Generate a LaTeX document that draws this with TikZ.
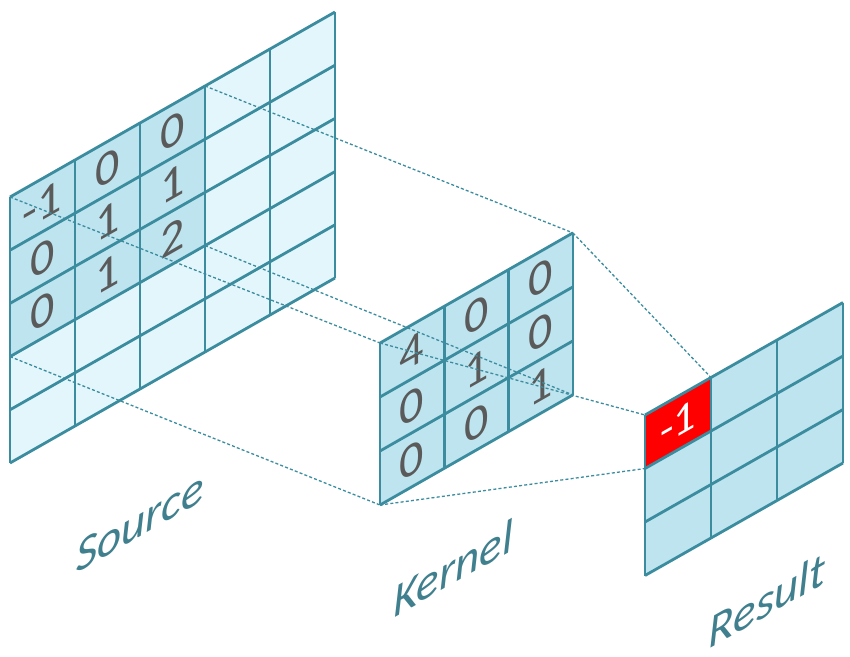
\documentclass[tikz,border=0pt]{standalone}
\usepackage{fontspec}
\setmainfont{Carlito}
\begin{document}
\definecolor{edge}{HTML}{3A8C9E}
\definecolor{dark}{HTML}{BEE4EF}
\definecolor{light}{HTML}{E3F6FB}
\definecolor{lbl}{HTML}{3F7F8E}
\definecolor{dig}{HTML}{5A5A5A}
\begin{tikzpicture}[x=1pt,y=-1pt,
  cellline/.style={draw=edge,line width=2.8pt,line join=round},
  digit/.style={font=\fontsize{48}{48}\selectfont,text=dig,yslant=0.57,inner sep=0},
  label/.style={font=\itshape\fontsize{47}{47}\selectfont,text=lbl,yslant=0.57,inner sep=0},
  conn/.style={draw=edge,line width=1.3pt,dash pattern=on 3pt off 2.2pt}]
\useasboundingbox (0,0) rectangle (850,656);
% Source
\begin{scope}[shift={(10,197)},x={(65pt,37pt)},y={(0pt,-53.2pt)}]
  \foreach \i in {0,...,4}\foreach \j in {0,...,4}{
    \pgfmathsetmacro\f{(\i<3 && \j<3) ? 1 : 0}
    \ifdim\f pt>0.5pt \def\cc{dark}\else\def\cc{light}\fi
    \fill[\cc] (\i,\j) -- (\i+1,\j) -- (\i+1,\j+1) -- (\i,\j+1) -- cycle;}
  \foreach \i in {0,...,5} \draw[cellline] (\i,0) -- (\i,5);
  \foreach \j in {0,...,5} \draw[cellline] (0,\j) -- (5,\j);
  \coordinate (s1) at (0,0); \coordinate (s2) at (3,0);
  \coordinate (s3) at (3,3); \coordinate (s4) at (0,3);
  \node[digit] (sa) at (0.5,0.5) {-1};
  \node[digit] (sb) at (1.5,0.5) {0};
  \node[digit] (sc) at (2.5,0.5) {0};
  \node[digit] (sd) at (0.5,1.5) {0};
  \node[digit] (se) at (1.5,1.5) {1};
  \node[digit] (sf) at (2.5,1.5) {1};
  \node[digit] (sg) at (0.5,2.5) {0};
  \node[digit] (sh) at (1.5,2.5) {1};
  \node[digit] (si) at (2.5,2.5) {2};
\end{scope}
% Kernel
\begin{scope}[shift={(380,343)},x={(64.3pt,36.7pt)},y={(0pt,-54pt)}]
  \fill[dark] (0,0) -- (3,0) -- (3,3) -- (0,3) -- cycle;
  \foreach \i in {0,...,3} \draw[cellline] (\i,0) -- (\i,3);
  \foreach \j in {0,...,3} \draw[cellline] (0,\j) -- (3,\j);
  \coordinate (k1) at (0,0); \coordinate (k2) at (3,0);
  \coordinate (k3) at (3,3); \coordinate (k4) at (0,3);
  \node[digit] (ka) at (0.5,0.5) {4};
  \node[digit] (kb) at (1.5,0.5) {0};
  \node[digit] (kc) at (2.5,0.5) {0};
  \node[digit] (kd) at (0.5,1.5) {0};
  \node[digit] (ke) at (1.5,1.5) {1};
  \node[digit] (kf) at (2.5,1.5) {0};
  \node[digit] (kg) at (0.5,2.5) {0};
  \node[digit] (kh) at (1.5,2.5) {0};
  \node[digit] (ki) at (2.5,2.5) {1};
\end{scope}
% Result
\begin{scope}[shift={(645,415)},x={(66pt,37.5pt)},y={(0pt,-53.5pt)}]
  \fill[dark] (0,0) -- (3,0) -- (3,3) -- (0,3) -- cycle;
  \fill[red] (0,0) -- (1,0) -- (1,1) -- (0,1) -- cycle;
  \foreach \i in {0,...,3} \draw[cellline] (\i,0) -- (\i,3);
  \foreach \j in {0,...,3} \draw[cellline] (0,\j) -- (3,\j);
  \coordinate (r1) at (0,0); \coordinate (r2) at (1,0);
  \coordinate (r4) at (0,1);
  \node[digit,text=white,font=\fontsize{44}{44}\selectfont] (ra) at (0.5,0.5) {-1};
\end{scope}
% connectors
\draw[conn] (s1) -- (k1);
\draw[conn] (s2) -- (k2);
\draw[conn] (s3) -- (k3);
\draw[conn] (s4) -- (k4);
\draw[conn] (k1) -- (r1);
\draw[conn] (k2) -- (r2);
\draw[conn] (k4) -- (r4);
% labels
\node[label] (lsource) at (140,522) {Source};
\node[label] (lkernel) at (453,568) {Kernel};
\node[label] (lresult) at (767,600) {Result};
\end{tikzpicture}
\end{document}
